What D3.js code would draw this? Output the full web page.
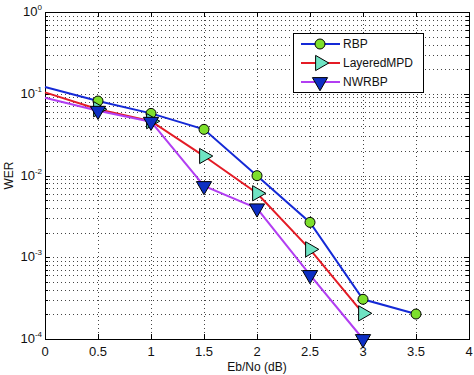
<!DOCTYPE html>
<html>
<head>
<meta charset="utf-8">
<script src="https://cdn.jsdelivr.net/npm/d3@7"></script>
<style>
  body { margin: 0; background: #fff; }
  text { font-family: "Liberation Sans", Arial, sans-serif; fill: #111; }
</style>
</head>
<body>
<div id="chart"></div>
<script>
// data (first point sits on the left edge, drawn without a marker)
const ebno = [0, 0.5, 1, 1.5, 2, 2.5, 3, 3.5];
const rbp = [0.121, 0.0815, 0.0575, 0.0367, 0.00995, 0.00267, 0.000306, 0.000202];
const layeredMPD = [0.104, 0.0646, 0.0462, 0.0173, 0.00606, 0.00125, 0.000206];
const nwrbp = [0.0895, 0.062, 0.0455, 0.00744, 0.00397, 0.000607, 0.0001];
const xTicks = [0, 0.5, 1, 1.5, 2, 2.5, 3, 3.5, 4];
const yExps = [-4, -3, -2, -1, 0];

const width = 474, height = 375;
const margin = {left: 45, right: 5, top: 12, bottom: 36};

const svg = d3.select("#chart").append("svg")
    .attr("width", width)
    .attr("height", height);

const x = d3.scaleLinear().domain([0, 4]).range([margin.left, width - margin.right]);
const y = d3.scaleLog().domain([1e-4, 1]).range([height - margin.bottom, margin.top]);

const x0 = x.range()[0], x1 = x.range()[1];
const y0 = y.range()[0], y1 = y.range()[1];

// minor log ticks
const minorVals = [];
yExps.slice(0, -1).forEach(e => {
    for (let k = 2; k <= 9; k++) minorVals.push(k * Math.pow(10, e));
});
const majorVals = yExps.map(e => Math.pow(10, e));

// grid
const grid = svg.append("g")
    .attr("stroke", "#444")
    .attr("stroke-width", 1)
    .attr("stroke-dasharray", "1,3");

grid.selectAll(".hg")
    .data(majorVals.concat(minorVals))
    .enter().append("line")
    .attr("x1", x0).attr("x2", x1)
    .attr("y1", d => Math.round(y(d)) + 0.5)
    .attr("y2", d => Math.round(y(d)) + 0.5);

grid.selectAll(".vg")
    .data(xTicks)
    .enter().append("line")
    .attr("x1", d => Math.round(x(d)) + 0.5)
    .attr("x2", d => Math.round(x(d)) + 0.5)
    .attr("y1", y1).attr("y2", y0);

// ticks (inside, both sides)
const ticks = svg.append("g").attr("stroke", "#000").attr("stroke-width", 1);
majorVals.concat(minorVals).forEach(v => {
    const len = majorVals.includes(v) ? 5 : 3;
    const yy = Math.round(y(v)) + 0.5;
    ticks.append("line").attr("x1", x0).attr("x2", x0 + len).attr("y1", yy).attr("y2", yy);
    ticks.append("line").attr("x1", x1).attr("x2", x1 - len).attr("y1", yy).attr("y2", yy);
});
xTicks.forEach(v => {
    const xx = Math.round(x(v)) + 0.5;
    ticks.append("line").attr("x1", xx).attr("x2", xx).attr("y1", y0).attr("y2", y0 - 5);
    ticks.append("line").attr("x1", xx).attr("x2", xx).attr("y1", y1).attr("y2", y1 + 5);
});

// frame
svg.append("rect")
    .attr("x", x0 + 0.5).attr("y", y1 + 0.5)
    .attr("width", x1 - x0).attr("height", y0 - y1)
    .attr("fill", "none")
    .attr("stroke", "#000");

// tick labels
svg.selectAll(".xl")
    .data(xTicks)
    .enter().append("text")
    .attr("x", d => x(d))
    .attr("y", y0 + 17)
    .attr("text-anchor", "middle")
    .style("font-size", "13px")
    .text(d => d);

const yl = svg.selectAll(".yl")
    .data(yExps)
    .enter().append("text")
    .attr("x", x0 - 3)
    .attr("y", d => y(Math.pow(10, d)) + 4)
    .attr("text-anchor", "end")
    .style("font-size", "13px");
yl.append("tspan").text("10");
yl.append("tspan")
    .attr("dy", -6)
    .style("font-size", "8px")
    .text(d => d);

// axis titles
svg.append("text")
    .attr("x", (x0 + x1) / 2)
    .attr("y", height - 4)
    .attr("text-anchor", "middle")
    .style("font-size", "12px")
    .text("Eb/No (dB)");

svg.append("text")
    .attr("transform", `translate(13, ${(y0 + y1) / 2}) rotate(-90)`)
    .attr("text-anchor", "middle")
    .style("font-size", "12px")
    .text("WER");

// series
const series = [
    {name: "RBP", values: rbp, line: "#1429d6", fill: "#7ddf2c", marker: "circle"},
    {name: "LayeredMPD", values: layeredMPD, line: "#e41b25", fill: "#6fe3c3", marker: "right"},
    {name: "NWRBP", values: nwrbp, line: "#b23ef2", fill: "#0d2fc4", marker: "down"}
];

const line = d3.line()
    .x((d, i) => x(ebno[i]))
    .y(d => y(d));

function drawMarker(g, type, cx, cy, fill) {
    if (type === "circle") {
        g.append("circle").attr("cx", cx).attr("cy", cy).attr("r", 5)
            .attr("fill", fill).attr("stroke", "#000").attr("stroke-width", 1);
    } else {
        const sym = d3.symbol().type(d3.symbolTriangle).size(100);
        const rot = type === "right" ? 90 : 180;
        g.append("path").attr("d", sym())
            .attr("transform", `translate(${cx},${cy}) rotate(${rot})`)
            .attr("fill", fill).attr("stroke", "#000").attr("stroke-width", 1);
    }
}

series.forEach(s => {
    svg.append("path")
        .datum(s.values)
        .attr("fill", "none")
        .attr("stroke", s.line)
        .attr("stroke-width", 2)
        .attr("d", line);
});
series.forEach(s => {
    const g = svg.append("g");
    s.values.forEach((v, i) => {
        if (i > 0) drawMarker(g, s.marker, x(ebno[i]), y(v), s.fill);
    });
});

// legend
const legend = svg.append("g").attr("transform", "translate(293, 33)");
legend.append("rect")
    .attr("x", 0.5).attr("y", 0.5)
    .attr("width", 130).attr("height", 59)
    .attr("fill", "#fff")
    .attr("stroke", "#000");
series.forEach((s, i) => {
    const ly = 11 + i * 19;
    legend.append("line")
        .attr("x1", 8).attr("x2", 47)
        .attr("y1", ly).attr("y2", ly)
        .attr("stroke", s.line).attr("stroke-width", 2);
    drawMarker(legend, s.marker, 27, ly, s.fill);
    legend.append("text")
        .attr("x", 50)
        .attr("y", ly + 4)
        .style("font-size", "12px")
        .text(s.name);
});
</script>
</body>
</html>
